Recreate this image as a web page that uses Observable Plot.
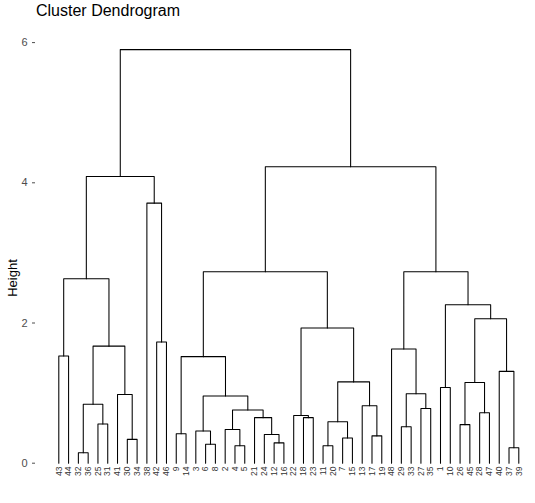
<!DOCTYPE html>
<html>
<head>
<meta charset="utf-8">
<script src="https://cdn.jsdelivr.net/npm/d3@7"></script>
<script src="https://cdn.jsdelivr.net/npm/@observablehq/plot@0.6"></script>
<style>
  body { margin: 0; background: white; }
  #wrap { position: relative; width: 535px; height: 503px; font-family: "Liberation Sans", Arial, sans-serif; }
  #title { position: absolute; left: 36px; top: 2px; font-size: 16px; font-weight: normal; color: #000; white-space: nowrap; }
  #ylab { position: absolute; left: 12px; top: 278px; font-size: 13px; font-weight: normal; color: #000; transform: translate(-50%, -50%) rotate(-90deg); white-space: nowrap; }
</style>
</head>
<body>
<div id="wrap">
  <div id="chart"></div>
  <div id="title">Cluster Dendrogram</div>
  <div id="ylab">Height</div>
</div>
<script>
// leaves in the order they are drawn, left to right
const leafOrder = [43, 44, 32, 36, 25, 31, 41, 30, 34, 38, 42, 46, 9, 14, 3, 6, 8, 2, 4, 5, 21, 24, 12, 16,
  22, 18, 23, 11, 20, 7, 15, 13, 17, 19, 48, 29, 33, 27, 35, 1, 10, 26, 45, 28, 47, 40, 37, 39];

// hclust-style merges: negative = observation, positive = earlier merge step (1-based)
const mergeA = [-32, -37, -11, -4, -6, -12, -30, -7, -17, -24, -9, -3, -2, -29, -26, -25, 3, -21, -18, -22,
  -28, 13, -27, -13, 1, 12, -41, 14, -1, 15, 17, -40, 11, -43, -48, 25, -42, 20, 30, 29, 34, 33, 35, -38, 41, 42, 45];
const mergeB = [-36, -39, -20, -5, -8, -16, -34, -15, -19, 6, -14, 5, 4, -33, -45, -31, 8, 10, -23, 19,
  -47, 18, -35, 9, 16, 22, 7, 23, -10, 21, 24, 2, 26, -44, 28, 27, -46, 31, 32, 39, 36, 38, 40, 37, 44, 43, 46];
const mergeHeight = [0.15, 0.22, 0.25, 0.25, 0.27, 0.29, 0.34, 0.36, 0.39, 0.41, 0.42, 0.46, 0.48, 0.52, 0.55, 0.56,
  0.59, 0.65, 0.65, 0.68, 0.72, 0.76, 0.78, 0.82, 0.84, 0.96, 0.98, 0.99, 1.08, 1.15, 1.16, 1.31, 1.52, 1.53,
  1.63, 1.67, 1.73, 1.93, 2.06, 2.26, 2.63, 2.73, 2.73, 3.71, 4.09, 4.23, 5.90];

const yTicks = [0, 2, 4, 6];

// position of each node: leaf index along x, merge height along y
const nodes = [];
const at = ref => ref < 0 ? {x: leafOrder.indexOf(-ref), h: 0} : nodes[ref - 1];
const segs = [];
mergeHeight.forEach((h, i) => {
  const a = at(mergeA[i]), b = at(mergeB[i]);
  nodes.push({x: (a.x + b.x) / 2, h});
  segs.push({k: i, x: a.x, y: a.h}, {k: i, x: a.x, y: h}, {k: i, x: b.x, y: h}, {k: i, x: b.x, y: b.h});
});

const chart = Plot.plot({
  width: 535,
  height: 503,
  marginLeft: 35,
  marginRight: 0,
  marginTop: 42,
  marginBottom: 40,
  style: {fontFamily: "'Liberation Sans', Arial, sans-serif", background: "white", overflow: "visible"},
  x: {domain: [0, leafOrder.length - 1], range: [58.3, 518.3]},
  y: {domain: [0, 6], range: [462.7, 42.1]},
  marks: [
    Plot.line(segs, {x: "x", y: "y", z: "k", stroke: "black", strokeWidth: 1.05}),
    Plot.axisY({ticks: yTicks, tickFormat: d3.format("d"), tickSize: 3, tickPadding: 5, label: null, fontSize: 11, color: "#4d4d4d"}),
    Plot.axisX({
      ticks: d3.range(leafOrder.length),
      tickFormat: i => leafOrder[i],
      tickRotate: -90,
      tickSize: 0,
      tickPadding: 3,
      label: null,
      fontSize: 8.5,
      color: "#333333"
    })
  ]
});
document.getElementById("chart").append(chart);
</script>
</body>
</html>
